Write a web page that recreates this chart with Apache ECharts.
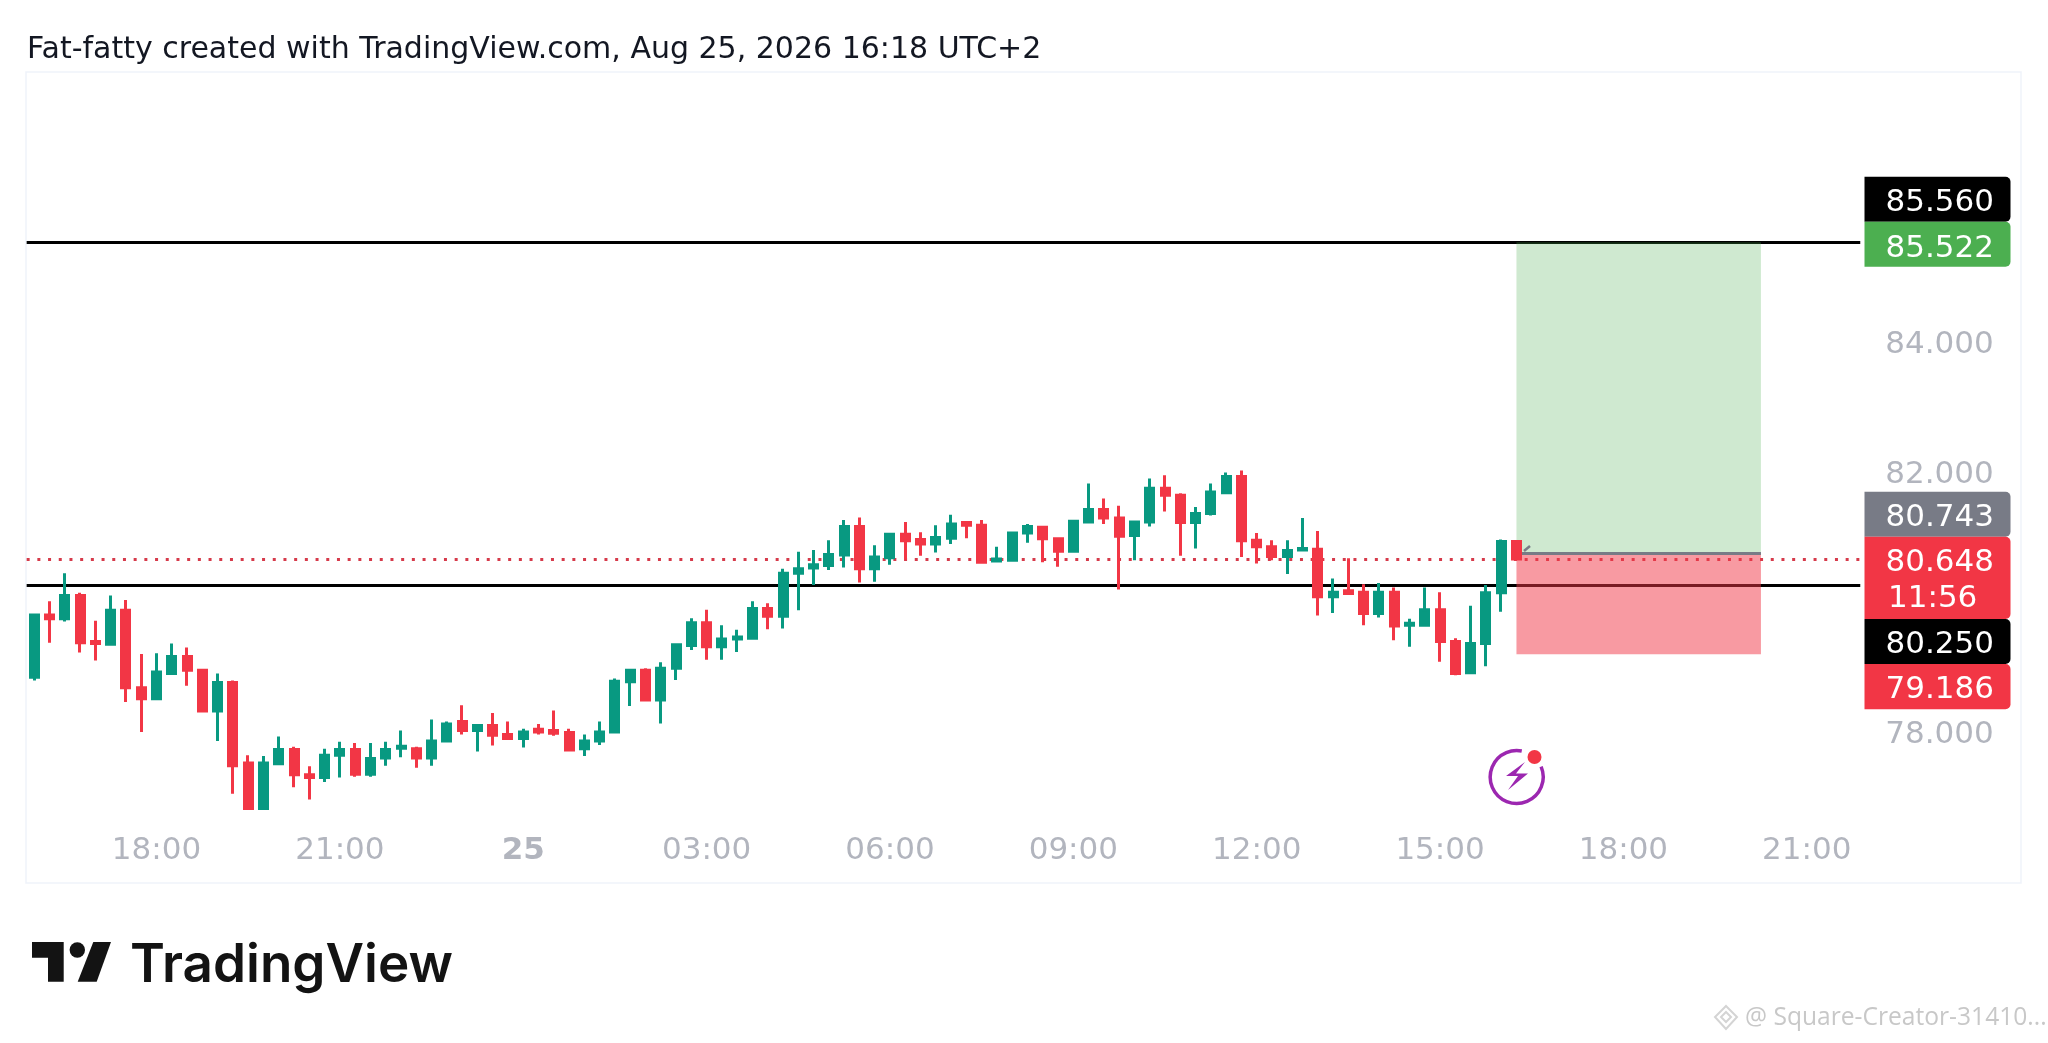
<!DOCTYPE html>
<html><head><meta charset="utf-8">
<style>html,body{margin:0;padding:0;background:#fff}#c{width:2048px;height:1043px}</style>
<script src="https://cdn.jsdelivr.net/npm/echarts@6/dist/echarts.min.js"></script>
</head><body><div id="c"></div>
<script>
const opens=[78.83,79.79,79.73,80.09,79.38,79.34,79.86,78.67,78.50,78.89,79.15,78.94,78.31,78.75,77.51,76.81,77.50,77.72,77.33,77.29,77.63,77.72,77.34,77.59,77.74,77.73,77.59,77.85,78.15,78.01,78.09,77.95,77.89,78.03,78.01,77.98,77.73,77.85,77.99,78.76,78.94,78.48,78.97,79.32,79.67,79.30,79.42,79.43,79.89,79.77,80.43,80.51,80.55,80.71,81.15,80.50,80.67,81.03,80.95,80.88,80.97,81.21,81.17,80.62,80.63,81.05,81.14,80.96,80.77,81.22,81.41,81.28,81.01,81.22,81.74,81.63,81.21,81.35,81.67,81.92,80.94,80.84,80.69,80.79,80.80,80.07,80.16,80.14,79.81,80.14,79.63,79.63,79.87,79.38,78.90,79.35,80.13,80.92];
const closes=[79.79,79.73,80.09,79.36,79.35,79.86,78.67,78.50,78.91,79.15,78.94,78.31,78.75,77.47,76.81,77.51,77.72,77.33,77.29,77.63,77.72,77.34,77.58,77.72,77.77,77.59,77.85,78.11,78.01,78.09,77.94,77.89,77.99,77.99,77.97,77.71,77.85,77.99,78.77,78.94,78.48,78.97,79.33,79.67,79.30,79.42,79.45,79.89,79.77,80.43,80.50,80.56,80.72,81.15,80.50,80.68,81.03,80.93,80.88,80.98,81.19,81.17,80.60,80.65,81.05,81.15,80.96,80.77,81.23,81.41,81.28,81.00,81.22,81.74,81.63,81.21,81.35,81.68,81.92,80.93,80.84,80.69,80.78,80.81,80.07,80.14,80.12,79.81,80.14,79.62,79.66,79.87,79.38,78.89,79.35,80.13,80.92,80.65];
const lows=[78.78,79.36,79.69,79.21,79.09,79.34,78.45,77.99,78.50,78.89,78.70,78.31,77.85,77.04,76.81,76.81,77.50,77.14,76.95,77.22,77.29,77.30,77.30,77.47,77.60,77.44,77.47,77.83,77.95,77.69,77.78,77.87,77.75,77.95,77.93,77.71,77.62,77.79,77.99,78.39,78.48,78.12,78.79,79.25,79.10,79.10,79.22,79.41,79.57,79.58,79.86,80.25,80.48,80.52,80.29,80.30,80.56,80.64,80.70,80.75,80.88,80.97,80.60,80.61,80.62,80.90,80.60,80.53,80.75,81.22,81.19,80.18,80.63,81.15,81.38,80.70,80.81,81.32,81.67,80.68,80.58,80.63,80.42,80.78,79.78,79.82,80.10,79.63,79.75,79.40,79.30,79.61,79.07,78.86,78.89,79.00,79.84,80.65];
const highs=[79.79,80.00,80.43,80.13,79.70,80.09,80.02,79.19,79.20,79.35,79.29,78.94,78.89,78.78,77.63,77.62,77.92,77.76,77.46,77.73,77.84,77.82,77.82,77.84,78.01,77.76,78.18,78.15,78.40,78.09,78.28,78.15,78.04,78.11,78.32,78.04,77.95,78.15,78.81,78.94,78.97,79.06,79.34,79.74,79.87,79.63,79.56,80.00,79.97,80.50,80.76,80.79,80.94,81.25,81.29,80.86,81.03,81.22,81.06,81.17,81.33,81.22,81.25,80.84,81.05,81.19,81.14,80.96,81.25,81.81,81.58,81.47,81.23,81.89,81.94,81.66,81.45,81.81,81.98,82.01,81.05,80.94,80.94,81.28,81.08,80.35,80.66,80.26,80.28,80.21,79.73,80.21,80.14,79.43,79.93,80.25,80.95,80.92];
const timeTicks=['18:00','21:00','25','03:00','06:00','09:00','12:00','15:00','18:00','21:00'];
const priceTicks=[84,82,78];
const levelLines=[85.522,80.25];
const lastPrice=80.648;
const entryPrice=80.743, targetPrice=85.522, stopPrice=79.186;
const tagTexts=['85.560','85.522','80.743','80.648','11:56','80.250','79.186'];
const titleText='Fat-fatty created with TradingView.com, Aug 25, 2026 16:18 UTC+2';
const watermarkText='@ Square-Creator-31410...';

const FONT='"DejaVu Sans"';
const TOTAL=120, FIRST_TICK=8, STEP=12;
const cats=[];for(let i=0;i<TOTAL;i++)cats.push(String(i));
const tickIdx=i=>(i-FIRST_TICK)%STEP===0&&i>=FIRST_TICK;
const candle=opens.map((o,i)=>[o,closes[i],lows[i],highs[i]]);
const START=String(opens.length-1), END='113';
const GREEN='#089981',RED='#f23645';

const tag=(y0,y1,fill)=>({type:'rect',shape:{x:1864.5,y:y0,width:146,height:y1-y0,r:[0,5,5,0]},style:{fill},z:20});
const txt=(t,x,y,fill,o)=>({type:'text',x,y,z:21,style:Object.assign({text:t,fill,font:'400 31px '+FONT,align:'right',verticalAlign:'middle'},o||{})});

const graphic=[
 {type:'rect',shape:{x:26,y:72,width:1995,height:811},style:{fill:'none',stroke:'#f0f3fa',lineWidth:1.5},z:0},
 txt(titleText,27,50.5,'#131722',{align:'left',font:'400 30px '+FONT}),
 tag(176.7,221.7,'#000000'),tag(221.7,266.7,'#4caf50'),tag(491.7,536.7,'#787b86'),tag(536.7,619,RED),tag(619,664,'#000000'),tag(664,709.3,RED),
 txt(tagTexts[0],1994,202.5,'#fff'),txt(tagTexts[1],1994,248.5,'#fff'),txt(tagTexts[2],1994,517.5,'#fff'),txt(tagTexts[3],1994,562.5,'#fff'),
 txt(tagTexts[4],1888,599,'#fff',{align:'left'}),txt(tagTexts[5],1994,644.5,'#fff'),txt(tagTexts[6],1994,689.5,'#fff'),
 {type:'polyline',shape:{points:[[1524,551],[1530,546]]},style:{stroke:'#787b86',lineWidth:2.5,fill:'none'},z:12},
 {type:'arc',shape:{cx:1516.7,cy:777,r:26.5,startAngle:-23*Math.PI/180,endAngle:281*Math.PI/180,clockwise:true},style:{stroke:'#9c27b0',lineWidth:3.5,fill:'none'},z:15},
 {type:'polygon',shape:{points:[[1525,762],[1506,776],[1518,776],[1508,790],[1528,773.5],[1516,773.5]]},style:{fill:'#9c27b0'},z:15},
 {type:'circle',shape:{cx:1534.5,cy:757,r:7},style:{fill:'#f23645'},z:15},
 {type:'polygon',shape:{points:[[32,942],[63.7,942],[63.7,981.7],[48,981.7],[48,957.7],[32,957.7]]},style:{fill:'#131313'},z:15},
 {type:'circle',shape:{cx:77.3,cy:950,r:7.7},style:{fill:'#131313'},z:15},
 {type:'polygon',shape:{points:[[93.3,942],[111,942],[96.7,981.7],[77.7,981.7]]},style:{fill:'#131313'},z:15},
 txt('TradingView',130,966,'#131313',{align:'left',font:'600 53px Inter'}),
 {type:'polygon',shape:{points:[[1726,1006],[1737,1017],[1726,1029],[1715,1017]]},style:{fill:'none',stroke:'#d4d4d4',lineWidth:2},z:15},
 {type:'polygon',shape:{points:[[1726,1012],[1731,1017],[1726,1022],[1721,1017]]},style:{fill:'none',stroke:'#d4d4d4',lineWidth:2},z:15},
 txt(watermarkText,1745,1018,'#c8c8c8',{align:'left',font:'400 24.6px "Open Sans"'})
];

const chart=echarts.init(document.getElementById('c'),null,{renderer:'canvas'});
chart.setOption({
 animation:false,backgroundColor:'#fff',
 graphic:{elements:graphic},
 grid:{left:26.66,top:81.25,width:1833.6,height:747.5},
 xAxis:{type:'category',data:cats,boundaryGap:true,axisLine:{show:false},axisTick:{show:false},splitLine:{show:false},
  axisLabel:{interval:(i)=>tickIdx(i),margin:6.5,color:'#b2b5be',fontFamily:FONT,fontSize:31,verticalAlign:'top',
   formatter:(v,i)=>{const t=timeTicks[(i-FIRST_TICK)/STEP];return /:/.test(t)?t:'{b|'+t+'}';},
   rich:{b:{fontWeight:'bold',fontFamily:FONT,fontSize:31,color:'#b2b5be'}}}},
 yAxis:{type:'value',position:'right',min:76.5,max:88,interval:0.5,scale:true,axisLine:{show:false},axisTick:{show:false},splitLine:{show:false},
  axisLabel:{margin:25,color:'#b2b5be',fontFamily:FONT,fontSize:31,showMinLabel:true,showMaxLabel:true,hideOverlap:false,verticalAlign:'top',lineHeight:7,
   formatter:(v)=>priceTicks.includes(v)?v.toFixed(3):''}},
 series:[
  {name:'levels',type:'line',data:[],silent:true,
   markLine:{symbol:'none',silent:true,z:1,label:{show:false},animation:false,
    data:[
     ...levelLines.map(v=>({yAxis:v,lineStyle:{color:'#000',width:2.8,type:'solid'}})),
     {yAxis:lastPrice,lineStyle:{color:'#d63a4a',width:3,type:[3,7.7]}}
    ]},
   markArea:{silent:true,z:2,animation:false,
    data:[
     [{xAxis:START,yAxis:targetPrice,itemStyle:{color:'rgba(76,175,80,0.27)'}},{xAxis:END,yAxis:entryPrice}],
     [{xAxis:START,yAxis:entryPrice,itemStyle:{color:'rgba(242,54,69,0.5)'}},{xAxis:END,yAxis:stopPrice}]
    ]}},
  {name:'entry',type:'line',data:[],silent:true,
   markLine:{symbol:'none',silent:true,z:3,label:{show:false},animation:false,
    data:[[{xAxis:START,yAxis:entryPrice},{xAxis:END,yAxis:entryPrice}]],lineStyle:{color:'#787b86',width:3,type:'solid'}}},
  {name:'price',type:'candlestick',data:candle,barWidth:8.5,z:5,silent:true,
   itemStyle:{color:GREEN,color0:RED,borderColor:GREEN,borderColor0:RED,borderWidth:3}}
 ]
});
</script></body></html>
